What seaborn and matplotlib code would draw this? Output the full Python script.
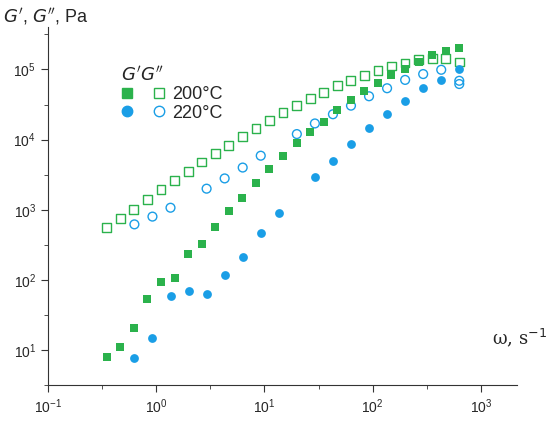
import numpy as np
import pandas as pd
import seaborn as sns
import matplotlib
matplotlib.use("Agg")
import matplotlib.pyplot as plt
from matplotlib.legend_handler import HandlerTuple
from matplotlib.lines import Line2D

nan = np.nan
# frequency grids
omega_200 = np.logspace(np.log10(0.35), np.log10(630), 27)
omega_220 = np.logspace(np.log10(0.63), np.log10(630), 19)

g1_200 = [7.9, 11, 21, 53, 93, 107, 237, 330, 560, 960, 1480, 2400, 3800, 5900, 9000, 13000,
          18000, 26500, 37000, 50000, 64000, 83000, 103000, 128000, 160000, 183000, 205000]
g2_200 = [560, 760, 1020, 1390, 1940, 2620, 3480, 4800, 6300, 8300, 11000, 14400, 18700, 24200, 31000, 38300,
          47000, 58500, 69000, 82000, 96000, 112000, 124000, 138000, 143000, 145000, 128000]
g1_220 = [7.6, 15, 59, 69, 63, 116, 210, 465, 890, nan, 2900, 5000, 8800, 14800, 23000, 36000,
          54000, 70000, 100000]
g2_220 = [620, 800, 1070, nan, 2000, 2800, 4000, 5900, nan, 12000, 17000, 23000, 30500, 41500, 54000,
          71000, 86000, 99000, 69000]
g2_220_extra_omega = [630]
g2_220_extra = [62000]

green = "#2bb24c"
blue = "#1a9ee6"

sns.set_style("ticks")
plt.rcParams['font.family'] = ['Liberation Sans', 'DejaVu Sans']
fig = plt.figure(figsize=(5.5, 4.21), dpi=100)
ax = fig.add_axes([0.087, 0.085, 0.853, 0.85])

d200 = pd.DataFrame({"w": omega_200, "g1": g1_200, "g2": g2_200})
d220 = pd.DataFrame({"w": omega_220, "g1": g1_220, "g2": g2_220})
dex = pd.DataFrame({"w": g2_220_extra_omega, "g2": g2_220_extra})

kw = dict(ax=ax, s=40, legend=False, zorder=3)
sns.scatterplot(data=d200, x="w", y="g2", marker="s", facecolor="none", edgecolor=green, linewidth=1.0, **kw)
sns.scatterplot(data=d220, x="w", y="g2", marker="o", facecolor="none", edgecolor=blue, linewidth=1.0, **kw)
sns.scatterplot(data=dex, x="w", y="g2", marker="o", facecolor="none", edgecolor=blue, linewidth=1.0, **kw)
sns.scatterplot(data=d200, x="w", y="g1", marker="s", color=green, linewidth=0, **kw)
sns.scatterplot(data=d220, x="w", y="g1", marker="o", color=blue, linewidth=0, **kw)

ax.set_xscale("log")
ax.set_yscale("log")
ax.set_xlim(0.1, 2150)
ax.set_ylim(10**0.5, 10**5.6)
ax.set_xticks([0.1, 1, 10, 100, 1000])
ax.set_yticks([10, 100, 1000, 1e4, 1e5])
ax.xaxis.set_minor_locator(matplotlib.ticker.FixedLocator([10**(k + 0.5) for k in range(-1, 4)]))
ax.yaxis.set_minor_locator(matplotlib.ticker.FixedLocator([10**(k + 0.5) for k in range(0, 6)]))
ax.xaxis.set_minor_formatter(matplotlib.ticker.NullFormatter())
ax.yaxis.set_minor_formatter(matplotlib.ticker.NullFormatter())
ax.tick_params(which="both", direction="out", labelsize=10, color="#333333")
ax.tick_params(which="major", length=5)
ax.tick_params(which="minor", length=3)
for sp in ["top", "right"]:
    ax.spines[sp].set_visible(False)
for sp in ["left", "bottom"]:
    ax.spines[sp].set_color("#333333")
ax.set_xlabel("")
ax.set_ylabel("")

fig.text(0.005, 0.985, "$G'$, $G''$, Pa", fontsize=13, va="top", ha="left")
fig.text(0.995, 0.17, "ω, s$^{-1}$", fontsize=13, ha="right", va="bottom", family="DejaVu Serif")

def mk(m, c, filled):
    return Line2D([], [], linestyle="none", marker=m, markersize=7.5,
                  markerfacecolor=c if filled else "none", markeredgecolor=c, markeredgewidth=1.0)

handles = [(mk("s", green, True), mk("s", green, False)), (mk("o", blue, True), mk("o", blue, False))]
leg = ax.legend(handles, ["200°C", "220°C"], handler_map={tuple: HandlerTuple(ndivide=None, pad=1.2)},
                title="$G'G''$", loc="upper left", bbox_to_anchor=(0.13, 0.93), frameon=False,
                fontsize=13, title_fontsize=13, handlelength=2.4, handletextpad=0.4,
                labelspacing=0.1, borderpad=0.2)
leg._legend_box.align = "left"

fig.savefig("out.png", dpi=100)
